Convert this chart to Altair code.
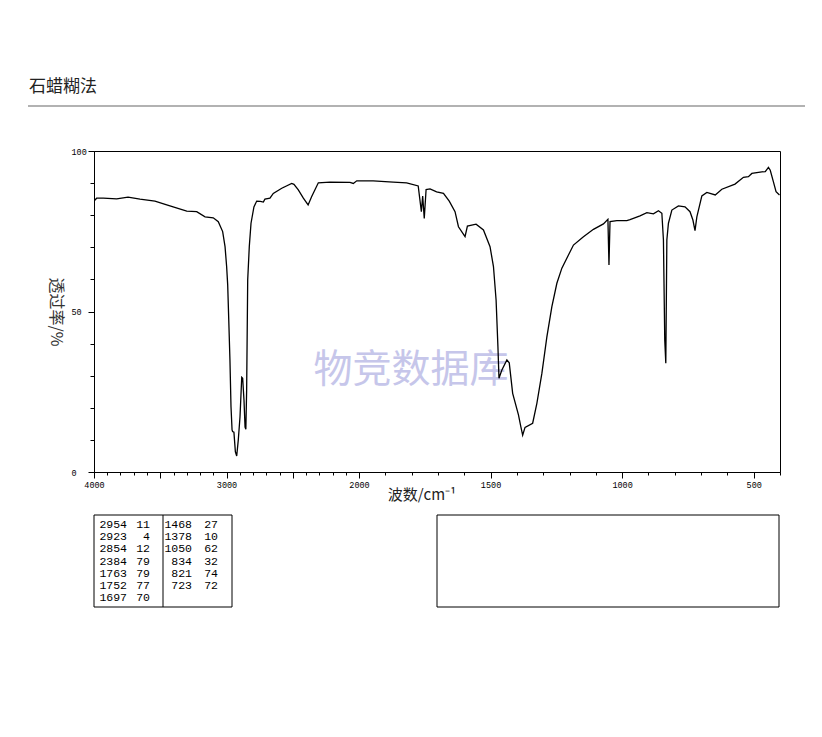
import altair as alt
import pandas as pd

# ---- spectrum (wavenumber cm-1, transmittance %) ----
wavenumber = [3996, 3980, 3930, 3829, 3743, 3653, 3540, 3451, 3300, 3225, 3162, 3100, 3062,
              3029, 3011, 2999, 2991, 2983, 2974, 2966, 2958, 2954, 2944, 2933, 2923, 2911,
              2898, 2885, 2878, 2868, 2860, 2854, 2848, 2840, 2828, 2815, 2793, 2772, 2745,
              2722, 2710, 2672, 2647, 2583, 2508, 2491, 2458, 2420, 2384, 2357, 2307, 2219,
              2068, 2043, 2017, 1946, 1870, 1819, 1775, 1763, 1758, 1752, 1745, 1730, 1705,
              1679, 1657, 1635, 1622, 1597, 1588, 1555, 1527, 1502, 1489, 1479, 1472, 1468,
              1457, 1438, 1429, 1416, 1394, 1385, 1378, 1369, 1340, 1324, 1305, 1286, 1267,
              1248, 1229, 1204, 1185, 1147, 1109, 1071, 1054, 1050, 1046, 1020, 982, 970,
              932, 906, 881, 862, 849, 843, 838, 834, 830, 824, 811, 786, 761, 742, 731, 723,
              716, 697, 678, 646, 621, 571, 539, 520, 507, 469, 456, 444, 437, 425, 415, 402]
transmittance = [84.6, 85.3, 85.3, 85.1, 85.6, 85.0, 84.4, 83.2, 81.3, 81.1, 79.5, 79.2, 78.0,
                 74.9, 70.2, 64.0, 58.3, 47.4, 34.9, 20.3, 13.1, 12.6, 12.4, 6.3, 5.0, 10.0,
                 17.2, 29.5, 29.2, 22.4, 14.0, 13.3, 25.5, 59.8, 70.2, 77.5, 82.6, 84.4, 84.3,
                 84.1, 85.0, 85.3, 86.8, 88.4, 89.9, 89.6, 87.9, 85.3, 83.2, 85.8, 90.1, 90.3,
                 90.2, 89.9, 90.7, 90.7, 90.3, 90.1, 89.1, 81.1, 86.0, 79.0, 88.0, 88.2, 87.3,
                 86.8, 84.4, 81.1, 76.4, 73.3, 76.6, 77.2, 75.4, 70.2, 64.0, 53.6, 39.0, 29.2,
                 31.8, 34.9, 34.0, 24.5, 17.8, 14.1, 11.5, 13.9, 15.2, 21.4, 30.7, 42.1, 51.5,
                 58.8, 63.5, 67.6, 70.7, 73.3, 75.6, 77.3, 78.7, 64.5, 78.0, 78.3, 78.3, 78.6,
                 79.8, 80.8, 80.4, 81.4, 80.6, 72.3, 41.1, 33.9, 72.3, 77.5, 81.6, 82.9, 82.6, 81.1, 78.5, 75.2,
                 79.5, 86.0, 87.1, 86.3, 88.1, 89.7, 91.8, 92.0, 93.0, 93.5, 93.6, 94.9, 94.0, 90.4, 87.3, 86.3]

# ---- peak table ----
peak_wn_left = ["2954", "2923", "2854", "2384", "1763", "1752", "1697"]
peak_t_left = ["11", "4", "12", "79", "79", "77", "70"]
peak_wn_right = ["1468", "1378", "1050", "834", "821", "723"]
peak_t_right = ["27", "10", "62", "32", "74", "72"]

# ---- axis ticks / labels ----
x_ticks_minor = list(range(4000, 399, -100))
x_ticks_major = [4000, 3500, 3000, 2500, 2000, 1500, 1000, 500]
x_labels = [4000, 3000, 2000, 1500, 1000, 500]
y_ticks_minor = list(range(0, 101, 10))
y_ticks_major = [0, 50, 100]

title_text = "石蜡糊法"
x_title = "波数/cm⁻¹"
y_title = "透过率/%"
watermark = "物竞数据库"

spec = pd.DataFrame({"wn": wavenumber, "t": transmittance})
one = pd.DataFrame({"a": [0]})

xscale = alt.Scale(domain=[4000, 2000, 400], range=[0, 265, 686], nice=False, zero=False)
yscale = alt.Scale(domain=[0, 100], nice=False, zero=False)

tick_font = "Liberation Mono"

line_minor = alt.Chart(spec).mark_line(color="black", strokeWidth=1.3).encode(
    x=alt.X("wn:Q", scale=xscale,
            axis=alt.Axis(values=x_ticks_minor, labels=False, tickSize=3, tickColor="black",
                          domainColor="black", grid=False, title=None, orient="bottom")),
    y=alt.Y("t:Q", scale=yscale,
            axis=alt.Axis(values=y_ticks_minor, labels=False, tickSize=4, tickColor="black",
                          domainColor="black", grid=False, title=None, orient="left")),
)

label_list = ",".join(str(v) for v in x_labels)
line_major = alt.Chart(spec).mark_line(opacity=0).encode(
    x=alt.X("wn:Q", scale=xscale,
            axis=alt.Axis(values=x_ticks_major, tickSize=6, tickColor="black", domain=False,
                          grid=False, title=None, orient="bottom", format="d",
                          labelExpr=f"indexof([{label_list}], datum.value) >= 0 ? datum.label : ''",
                          labelFont=tick_font, labelFontSize=8.5, labelColor="black",
                          labelPadding=2, labelFlush=False, labelOverlap=False)),
    y=alt.Y("t:Q", scale=yscale,
            axis=alt.Axis(values=y_ticks_major, tickSize=6, tickColor="black", domain=False,
                          grid=False, title=None, orient="left", format="d",
                          labelFont=tick_font, labelFontSize=8.5, labelColor="black",
                          labelAlign="left", labelPadding=17, labelFlush=False,
                          labelOverlap=False)),
)

wm = alt.Chart(one).mark_text(fontSize=39, color="#c6c6ea", font="Noto Sans CJK SC",
                               align="center", baseline="middle").encode(
    x=alt.value(317), y=alt.value(219), text=alt.value(watermark))

title = alt.Chart(one).mark_text(fontSize=17, color="#222222", font="Noto Sans CJK SC",
                                  align="left", baseline="middle").encode(
    x=alt.value(-65), y=alt.value(-64), text=alt.value(title_text))

hr = alt.Chart(one).mark_rule(color="#999999", strokeWidth=1.5).encode(
    x=alt.value(-66), x2=alt.value(711), y=alt.value(-45))

ytitle = alt.Chart(one).mark_text(fontSize=16, color="#333333", font="Noto Sans CJK SC",
                                   align="center", baseline="middle", angle=90).encode(
    x=alt.value(-38), y=alt.value(161), text=alt.value(y_title))

xtitle = alt.Chart(one).mark_text(fontSize=15, color="#222222", font="Noto Sans CJK SC",
                                   align="center", baseline="middle").encode(
    x=alt.value(328), y=alt.value(344), text=alt.value(x_title))

box_left = alt.Chart(one).mark_rect(fillOpacity=0, stroke="black", strokeWidth=1).encode(
    x=alt.value(0), x2=alt.value(138), y=alt.value(364), y2=alt.value(456))
divider = alt.Chart(one).mark_rule(color="black", strokeWidth=1).encode(
    x=alt.value(69), y=alt.value(364), y2=alt.value(456))
box_right = alt.Chart(one).mark_rect(fillOpacity=0, stroke="black", strokeWidth=1).encode(
    x=alt.value(343), x2=alt.value(685), y=alt.value(364), y2=alt.value(456))


def column(values, right_x):
    df = pd.DataFrame({"v": values, "row": list(range(len(values)))})
    return alt.Chart(df).mark_text(font=tick_font, fontSize=11.5, color="black",
                                   align="right", baseline="middle").transform_calculate(
        ypix="374 + datum.row * 12.2").encode(
        x=alt.value(right_x), y=alt.Y("ypix:Q", scale=None), text="v:N")


cols = [column(peak_wn_left, 33), column(peak_t_left, 56),
        column(peak_wn_right, 98), column(peak_t_right, 124)]

chart = alt.layer(
    wm, hr, title, ytitle, xtitle, box_left, divider, box_right, *cols, line_minor, line_major
).resolve_axis(x="independent", y="independent").properties(
    width=686, height=321,
    autosize=alt.AutoSizeParams(type="none"),
    padding={"left": 86, "top": 143, "right": 30, "bottom": 235},
    background="white",
).configure_view(stroke="black", strokeWidth=1)

chart.save("out.html", embed_options={"renderer": "svg", "actions": False})
